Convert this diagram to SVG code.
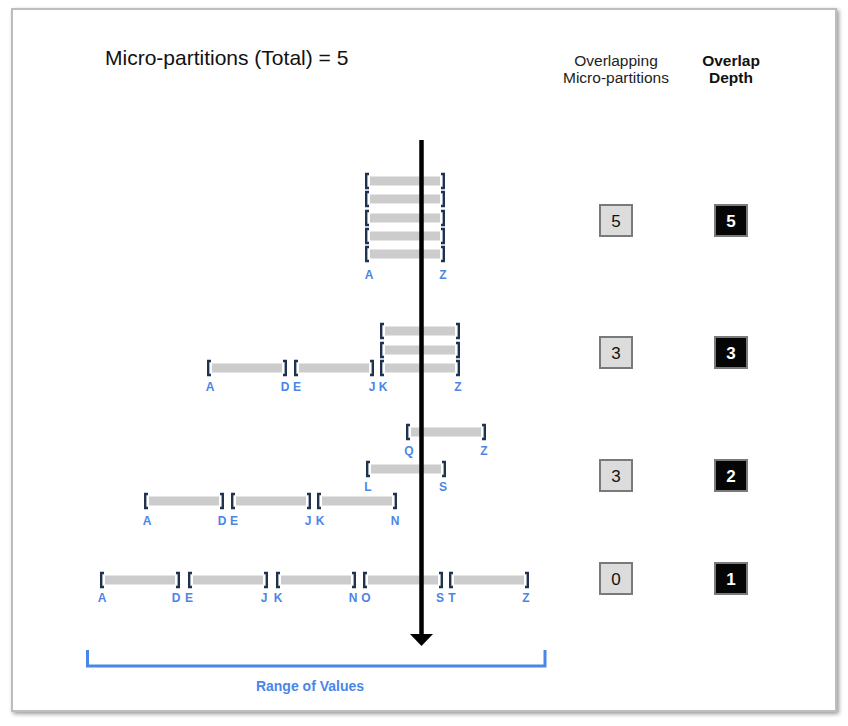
<svg xmlns="http://www.w3.org/2000/svg" width="848" height="726" viewBox="0 0 848 726">
<defs>
<filter id="sh" x="-5%" y="-5%" width="110%" height="110%">
<feGaussianBlur in="SourceAlpha" stdDeviation="2"/>
<feOffset dx="2" dy="2"/>
<feComponentTransfer><feFuncA type="linear" slope="0.4"/></feComponentTransfer>
<feMerge><feMergeNode/><feMergeNode in="SourceGraphic"/></feMerge>
</filter>
<g id="seg">
<path d="M4,-7 H1.2 V7 H4" fill="none" stroke="#1f3350" stroke-width="2.4"/>
<rect x="5" y="-4.5" width="70" height="9" fill="#cccccc"/>
<path d="M76,-7 H78.8 V7 H76" fill="none" stroke="#1f3350" stroke-width="2.4"/>
</g>
</defs>
<style>
.lbl{font-family:"Liberation Sans",Arial,sans-serif;font-size:12px;font-weight:bold;fill:#4a86e8;text-anchor:middle}
.rng{font-family:"Liberation Sans",Arial,sans-serif;font-size:14px;font-weight:bold;fill:#4a86e8;text-anchor:middle}
.hdr{font-family:"Liberation Sans",Arial,sans-serif;font-size:15.5px;fill:#222;text-anchor:middle}
.hdrb{font-family:"Liberation Sans",Arial,sans-serif;font-size:15.5px;font-weight:bold;fill:#111;text-anchor:middle}
.gbox{fill:#dcdcdc;stroke:#7a7a7a;stroke-width:2}
.bbox{fill:#050505;stroke:#7a7a7a;stroke-width:2}
.gnum{font-family:"Liberation Sans",Arial,sans-serif;font-size:17px;fill:#111;text-anchor:middle}
.bnum{font-family:"Liberation Sans",Arial,sans-serif;font-size:17px;font-weight:bold;fill:#fff;text-anchor:middle}
</style>
<rect width="848" height="726" fill="#ffffff"/>
<rect x="12" y="9" width="824" height="702" fill="#ffffff" stroke="#bdbdbd" stroke-width="2" filter="url(#sh)"/>

<text x="105" y="65" font-family="Liberation Sans,Arial,sans-serif" font-size="21" fill="#111">Micro-partitions (Total) = 5</text>
<g id="headers">
<text class="hdr" x="616" y="66">Overlapping</text>
<text class="hdr" x="616" y="83">Micro-partitions</text>
<text class="hdrb" x="731" y="66">Overlap</text>
<text class="hdrb" x="731" y="83">Depth</text>
</g>

<g id="group1">
<use href="#seg" x="365" y="181"/>
<use href="#seg" x="365" y="199"/>
<use href="#seg" x="365" y="218"/>
<use href="#seg" x="365" y="236"/>
<use href="#seg" x="365" y="254"/>
<text class="lbl" x="369" y="279">A</text>
<text class="lbl" x="443" y="279">Z</text>
</g>

<g id="group2">
<use href="#seg" x="380" y="331"/>
<use href="#seg" x="380" y="350"/>
<use href="#seg" x="207" y="368"/>
<use href="#seg" x="294" y="368"/>
<use href="#seg" x="380" y="368"/>
<text class="lbl" x="210" y="391">A</text>
<text class="lbl" x="285" y="391">D</text>
<text class="lbl" x="297" y="391">E</text>
<text class="lbl" x="372" y="391">J</text>
<text class="lbl" x="383" y="391">K</text>
<text class="lbl" x="458" y="391">Z</text>
</g>

<g id="group3">
<use href="#seg" x="406" y="432"/>
<text class="lbl" x="409" y="455">Q</text>
<text class="lbl" x="484" y="455">Z</text>
<use href="#seg" x="366" y="469"/>
<text class="lbl" x="368" y="491">L</text>
<text class="lbl" x="443" y="491">S</text>
<use href="#seg" x="144" y="501"/>
<use href="#seg" x="231" y="501"/>
<use href="#seg" x="317" y="501"/>
<text class="lbl" x="147" y="525">A</text>
<text class="lbl" x="222" y="525">D</text>
<text class="lbl" x="234" y="525">E</text>
<text class="lbl" x="308" y="525">J</text>
<text class="lbl" x="320" y="525">K</text>
<text class="lbl" x="395" y="525">N</text>
</g>

<g id="group4">
<use href="#seg" x="100" y="580"/>
<use href="#seg" x="188" y="580"/>
<use href="#seg" x="276" y="580"/>
<use href="#seg" x="363" y="580"/>
<use href="#seg" x="449" y="580"/>
<text class="lbl" x="102" y="602">A</text>
<text class="lbl" x="176" y="602">D</text>
<text class="lbl" x="189" y="602">E</text>
<text class="lbl" x="264" y="602">J</text>
<text class="lbl" x="278" y="602">K</text>
<text class="lbl" x="353" y="602">N</text>
<text class="lbl" x="366" y="602">O</text>
<text class="lbl" x="440" y="602">S</text>
<text class="lbl" x="452" y="602">T</text>
<text class="lbl" x="526" y="602">Z</text>
</g>

<g id="connectors">
<line x1="421.5" y1="140" x2="421.5" y2="635" stroke="#000" stroke-width="4.5"/>
<polygon points="410,634 433,634 421.5,646" fill="#000"/>
</g>

<g id="range">
<path d="M87.5,650 V666 H545 V650" fill="none" stroke="#4a86e8" stroke-width="3"/>
<text class="rng" x="310" y="691">Range of Values</text>
</g>

<g id="counts">
<rect class="gbox" x="600" y="205" width="32" height="31"/>
<text class="gnum" x="616" y="226.5">5</text>
<rect class="gbox" x="600" y="337" width="32" height="31"/>
<text class="gnum" x="616" y="358.5">3</text>
<rect class="gbox" x="600" y="460" width="32" height="31"/>
<text class="gnum" x="616" y="481.5">3</text>
<rect class="gbox" x="600" y="563" width="32" height="31"/>
<text class="gnum" x="616" y="584.5">0</text>
</g>
<g id="depths">
<rect class="bbox" x="715" y="205" width="32" height="31"/>
<text class="bnum" x="731" y="226.5">5</text>
<rect class="bbox" x="715" y="337" width="32" height="31"/>
<text class="bnum" x="731" y="358.5">3</text>
<rect class="bbox" x="715" y="460" width="32" height="31"/>
<text class="bnum" x="731" y="481.5">2</text>
<rect class="bbox" x="715" y="563" width="32" height="31"/>
<text class="bnum" x="731" y="584.5">1</text>
</g>
</svg>
